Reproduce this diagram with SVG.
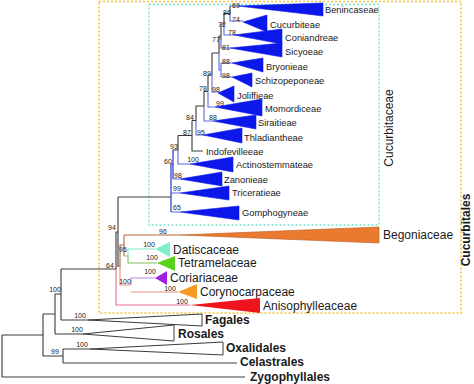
<svg xmlns="http://www.w3.org/2000/svg" width="474" height="384" viewBox="0 0 474 384">
<style>
text{font-family:"Liberation Sans",Arial,sans-serif;fill:#1a1a1a}
.tr{font-size:9.3px}
.fam{font-size:12px}
.ord{font-size:12px;font-weight:bold}
.s{font-size:7px;text-anchor:middle;fill:#222}
.k{stroke:#3a3a3a;stroke-width:1.1;fill:none}
.b{stroke:#5a68e0;stroke-width:1.1;fill:none}
.bd{stroke:#2a36c8;stroke-width:1.2;fill:none}
.w{fill:#0c18ea;stroke:#0c18ea;stroke-width:0.6}
.ow{fill:#fff;stroke:#3a3a3a;stroke-width:1}
</style>
<rect width="474" height="384" fill="#fff"/>
<g id="box-cucurbitales">
<rect x="99" y="1.5" width="362" height="311.5" fill="none" stroke="#f3c13a" stroke-width="1.6" stroke-dasharray="2,2"/>
<text class="ord" transform="translate(470,230) rotate(-90)" text-anchor="middle" font-size="11">Cucurbitales</text>
</g>
<g id="box-cucurbitaceae">
<rect x="149" y="4.5" width="230" height="220.5" fill="none" stroke="#6fe3cf" stroke-width="1.3" stroke-dasharray="2,2"/>
<text class="fam" transform="translate(393,128) rotate(-90)" text-anchor="middle">Cucurbitaceae</text>
</g>
<g id="connectors">
<!-- outgroups -->
<path class="k" stroke="#555" d="M2,335V377H245M2,335H43M43,314V356M43,314H55M55,294V334M55,294H61M61,269V320M61,320H88M55,334H83M43,356H63M63,349V363M63,349H90M63,363H237"/>
<path class="k" d="M61,269H116M116,232V269M118,197V267M116,232H118M118,197H171"/>
<!-- Cucurbitales other families -->
<path stroke="#e8708c" stroke-width="1.1" fill="none" d="M116,269V305H190"/>
<path stroke="#b8643c" stroke-width="1.1" fill="none" d="M118,266H120V245H124M124,235V256M124,235H180"/>
<path stroke="#e89078" stroke-width="1.1" fill="none" d="M120,266V285H131M131,292H178"/>
<path stroke="#80c060" stroke-width="1.1" fill="none" d="M124,256H128V263H157"/>
<path stroke="#7fe6c6" stroke-width="1.1" fill="none" d="M128,256V249H155"/>
<path stroke="#b48ae8" stroke-width="1.1" fill="none" d="M131,285V278H155"/>
<!-- Cucurbitaceae backbone -->
<path class="bd" d="M171,164V212M173,150V179M171,164H173"/>
<path class="b" d="M171,193H180M171,212H180M173,179H180M178,150V164H190"/>
<path class="k" d="M173,150H178M178,135.5V150M178,135.5H192M192,120.5V151H203M192,120.5H196M196,106V121"/>
<path class="b" d="M196,121V135H203"/>
<path class="k" d="M196,106H204M204,91.5V106"/>
<path class="b" d="M204,106V121H213"/>
<path class="k" d="M204,91.5H208M208,75V91"/>
<path class="b" d="M208,91V107H215"/>
<path class="k" d="M208,75H212M212,53V75"/>
<path class="b" d="M212,75V92H218"/>
<path class="k" d="M212,53H219M219,36V53M219,36H221M221,24V40"/>
<path class="b" d="M219,53V70H221M221,63V77M221,63H232M221,77H232M221,40V48H230"/>
<path class="k" d="M221,24H224M224,13.5V24"/>
<path class="b" d="M224,24V35H234"/>
<path class="k" d="M224,13.5H230M230,6V13.5"/>
<path class="b" d="M230,13.5V21H243M230,6H238"/>
</g>
<g id="supports">
<text class="s" x="236" y="8">69</text>
<text class="s" x="227" y="15">86</text>
<text class="s" x="236" y="22">74</text>
<text class="s" x="222" y="27">72</text>
<text class="s" x="232" y="35">78</text>
<text class="s" x="216" y="42">77</text>
<text class="s" x="226" y="50">81</text>
<text class="s" x="226" y="64">88</text>
<text class="s" x="207" y="76">89</text>
<text class="s" x="226" y="78">98</text>
<text class="s" x="203" y="91">78</text>
<text class="s" x="216" y="92">98</text>
<text class="s" x="220" y="106">99</text>
<text class="s" x="190" y="120">84</text>
<text class="s" x="213" y="120">88</text>
<text class="s" x="187" y="135">87</text>
<text class="s" x="201" y="135">95</text>
<text class="s" x="174" y="149">93</text>
<text class="s" x="168" y="164">60</text>
<text class="s" x="193" y="162">100</text>
<text class="s" x="178" y="178">98</text>
<text class="s" x="177" y="191">99</text>
<text class="s" x="177" y="210">65</text>
<text class="s" x="112" y="230">94</text>
<text class="s" x="110" y="268">64</text>
<text class="s" x="163" y="234">96</text>
<text class="s" x="123" y="252">95</text>
<text class="s" x="149" y="247">100</text>
<text class="s" x="152" y="260">100</text>
<text class="s" x="150" y="274">100</text>
<text class="s" x="125" y="284">100</text>
<text class="s" x="170" y="291">100</text>
<text class="s" x="182" y="304">100</text>
<text class="s" x="55" y="292">100</text>
<text class="s" x="80" y="318">100</text>
<text class="s" x="77" y="332">100</text>
<text class="s" x="82" y="347">100</text>
<text class="s" x="55" y="354">99</text>
</g>
<g id="benincaseae"><polygon class="w" points="238,6 323,3 323,16"/><text class="tr" x="325" y="13">Benincaseae</text></g>
<g id="cucurbiteae"><polygon class="w" points="243,22 267,15 267,32"/><text class="tr" x="270" y="28">Cucurbiteae</text></g>
<g id="coniandreae"><polygon class="w" points="234,35 282,29 282,44"/><text class="tr" x="285" y="41">Coniandreae</text></g>
<g id="sicyoeae"><polygon class="w" points="230,48 282,43 282,57"/><text class="tr" x="285" y="55">Sicyoeae</text></g>
<g id="bryonieae"><polygon class="w" points="232,63 263,58 263,72"/><text class="tr" x="266" y="70">Bryonieae</text></g>
<g id="schizopeponeae"><polygon class="w" points="232,77 252,73 252,87"/><text class="tr" x="255" y="84">Schizopeponeae</text></g>
<g id="joliffieae"><polygon class="w" points="218,93 234,86 234,102"/><text class="tr" x="237" y="99">Joliffieae</text></g>
<g id="momordiceae"><polygon class="w" points="215,107 262,99 262,116"/><text class="tr" x="265" y="112">Momordiceae</text></g>
<g id="siraitieae"><polygon class="w" points="213,121 256,115 256,129"/><text class="tr" x="258" y="126">Siraitieae</text></g>
<g id="thladiantheae"><polygon class="w" points="203,135 242,128 242,143"/><text class="tr" x="244" y="141">Thladiantheae</text></g>
<g id="indofevilleeae"><text class="tr" x="206" y="155">Indofevilleeae</text></g>
<g id="actinostemmateae"><polygon class="w" points="190,164 233,157 233,172"/><text class="tr" x="236" y="168">Actinostemmateae</text></g>
<g id="zanonieae"><polygon class="w" points="180,179 222,172 222,186"/><text class="tr" x="224" y="183">Zanonieae</text></g>
<g id="triceratieae"><polygon class="w" points="180,193 229,186 229,200"/><text class="tr" x="232" y="196">Triceratieae</text></g>
<g id="gomphogyneae"><polygon class="w" points="180,212 239,206 239,220"/><text class="tr" x="242" y="216">Gomphogyneae</text></g>
<g id="begoniaceae"><polygon points="180,235 379,227 379,243" fill="#ea7a30" stroke="#b85a20" stroke-width="0.6"/><text class="fam" x="383" y="239">Begoniaceae</text></g>
<g id="datiscaceae"><polygon points="155,249 170,242 170,257" fill="#80efc9"/><text class="fam" x="173" y="254">Datiscaceae</text></g>
<g id="tetramelaceae"><polygon points="157,263 175,256 175,271" fill="#58d21a"/><text class="fam" x="178" y="267">Tetramelaceae</text></g>
<g id="coriariaceae"><polygon points="155,278 167,271 167,285" fill="#a020e2"/><text class="fam" x="170" y="282">Coriariaceae</text></g>
<g id="corynocarpaceae"><polygon points="178,292 197,284 197,299" fill="#f79a22"/><text class="fam" x="200" y="296">Corynocarpaceae</text></g>
<g id="anisophylleaceae"><polygon points="190,305 260,298 260,313" fill="#f0141f"/><text class="fam" x="263" y="310">Anisophylleaceae</text></g>
<g id="fagales"><polygon class="ow" points="88,320 202,314 202,326"/><text class="ord" x="205" y="324">Fagales</text></g>
<g id="rosales"><polygon class="ow" points="83,334 174,325 174,341"/><text class="ord" x="178" y="337.5">Rosales</text></g>
<g id="oxalidales"><polygon class="ow" points="90,349 223,342 223,355"/><text class="ord" x="226" y="352">Oxalidales</text></g>
<g id="celastrales"><text class="ord" x="240" y="366">Celastrales</text></g>
<g id="zygophyllales"><text class="ord" x="250" y="381">Zygophyllales</text></g>
</svg>
